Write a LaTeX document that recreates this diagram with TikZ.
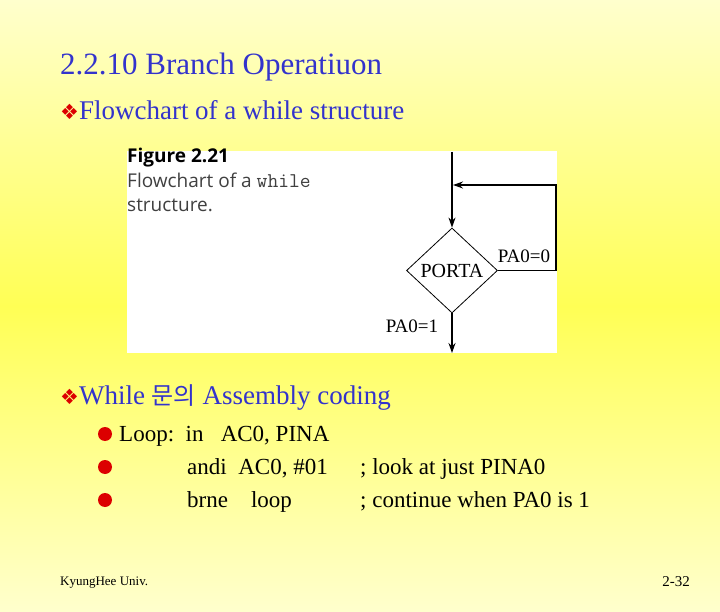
\documentclass[tikz,border=0pt]{standalone}
\usepackage{fontspec}
\setmainfont{Liberation Serif}
\setsansfont{Open Sans}
\newfontfamily\symfont{DejaVu Sans}
\newfontfamily\kofont{Noto Sans CJK KR}
\usetikzlibrary{shapes.geometric,arrows.meta}
\definecolor{titleblue}{RGB}{51,51,204}
\definecolor{bulletred}{RGB}{220,0,0}
\definecolor{paleyel}{RGB}{255,255,205}
\definecolor{deepyel}{RGB}{255,255,85}
\begin{document}
\begin{tikzpicture}[x=1pt,y=-1pt,
  title/.style={anchor=base west,text=titleblue,inner sep=0pt},
  code/.style={anchor=base west,inner sep=0pt,font=\fontsize{23}{23}\selectfont},
  flow/.style={line width=1.3pt,-{Stealth[length=10pt,width=7pt]}},
  dot/.style={circle,fill=bulletred,minimum size=14pt,inner sep=0pt}]

 % background
 \useasboundingbox (0,0) rectangle (720,612);
 \shade[top color=paleyel,bottom color=deepyel] (0,0) rectangle (720,306);
 \shade[top color=deepyel,bottom color=paleyel] (0,306) rectangle (720,612);

 % headings
 \node[title,font=\fontsize{31}{31}\selectfont] (head) at (60,75) {2.2.10 Branch Operatiuon};
 \node[title,font=\fontsize{27}{27}\selectfont] (sub1) at (60,120)
   {{\color{bulletred}\symfont\fontsize{21}{21}\selectfont ❖}Flowchart of a while structure};

 % figure
 \fill[white] (127,151) rectangle (557,353);
 \node[anchor=north west,inner sep=0pt,align=left,font=\sffamily\fontsize{19}{24.5}\selectfont,text=black!75]
   (cap) at (127,148) {\textbf{\color{black}Figure 2.21}\\Flowchart of a {\ttfamily\fontsize{21}{24.5}\selectfont while}\\structure.};
 \node[diamond,draw,line width=0.8pt,minimum width=91pt,minimum height=85pt,inner sep=0pt,
   font=\fontsize{20}{20}\selectfont] (porta) at (452,270.5) {PORTA};
 \coordinate (in) at (452,152);
 \coordinate (join) at (452,185);
 \coordinate (out) at (452,353);
 \coordinate (rt) at (556,270.5);
 \coordinate (rtop) at (556,185);
 \draw[line width=1.3pt] (in) -- (join);
 \draw[flow] (join) -- (porta.north);
 \draw[flow] (porta.east) -- (rt) -- (rtop) -- ([xshift=1pt]join);
 \draw[flow] (porta.south) -- (out);
 \node[anchor=base,font=\fontsize{19}{19}\selectfont] (pa0) at (524,263) {PA0=0};
 \node[anchor=base,font=\fontsize{19}{19}\selectfont] (pa1) at (412,332) {PA0=1};

 % assembly
 \node[title,font=\fontsize{27}{27}\selectfont] (sub2) at (60,404)
   {{\color{bulletred}\symfont\fontsize{21}{21}\selectfont ❖}While {\kofont\fontsize{24}{24}\selectfont 문의} Assembly coding};
 \foreach \y/\n in {434/1,467/2,500/3}
   \node[dot] (d\n) at (105,\y) {};
 \node[code] (l1) at (119,441) {Loop:\ \ in\ \ \ AC0, PINA};
 \node[code] (l2) at (187,474) {andi\ \ AC0, \#01};
 \node[code] (c2) at (360,474) {; look at just PINA0};
 \node[code] (l3) at (187,507) {brne\ \ \ \ loop};
 \node[code] (c3) at (360,507) {; continue when PA0 is 1};

 % footer
 \node[anchor=base west,inner sep=0pt,font=\fontsize{13}{13}\selectfont] (uni) at (60,585) {KyungHee Univ.};
 \node[anchor=base east,inner sep=0pt,font=\fontsize{15}{15}\selectfont] (pg) at (690,586) {2-32};
\end{tikzpicture}
\end{document}
